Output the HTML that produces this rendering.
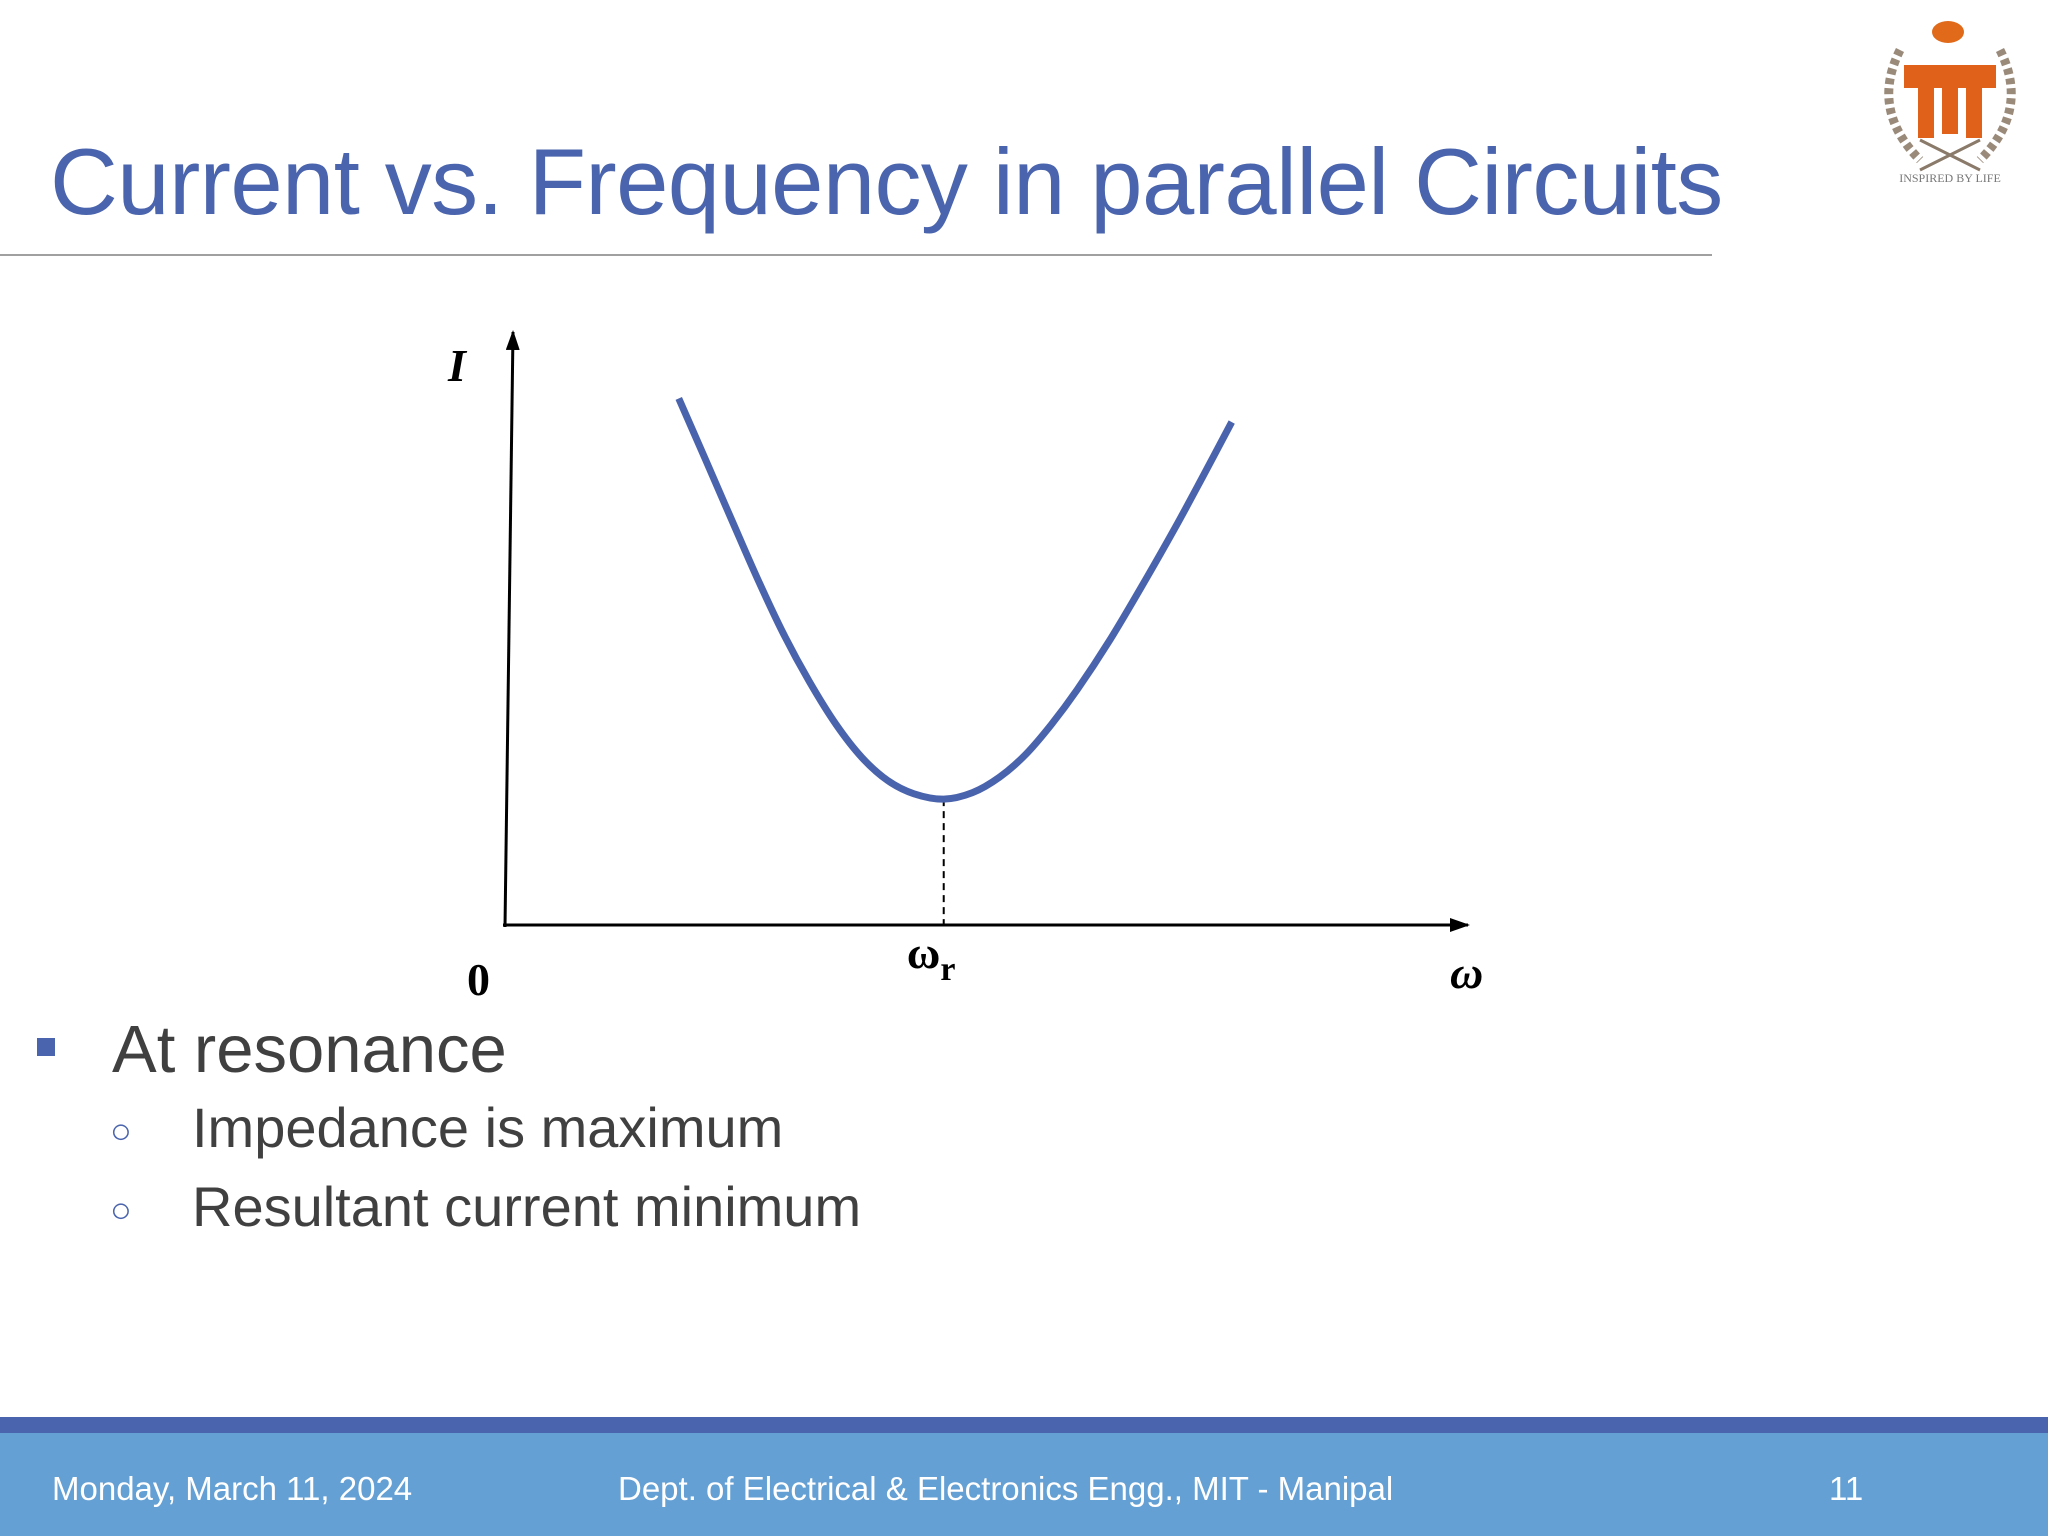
<!DOCTYPE html>
<html><head><meta charset="utf-8"><style>
html,body{margin:0;padding:0;background:#fff}
#slide{position:relative;width:2048px;height:1536px;overflow:hidden;font-family:"Liberation Sans",sans-serif;background:#fff}
.t{position:absolute;white-space:nowrap}
</style></head><body>
<div id="slide">
<div class="t" style="left:50px;top:128px;font-size:94px;color:#4a64ad;letter-spacing:-0.6px">Current vs. Frequency in parallel Circuits</div>
<div style="position:absolute;left:0;top:254px;width:1712px;height:2px;background:#a0a0a0"></div>
<svg style="position:absolute;left:1860px;top:10px" width="180" height="180" viewBox="0 0 180 180">
<g fill="none" stroke="#9a8a7a" stroke-width="9" stroke-dasharray="6 4"><path d="M40 40 Q10 100 60 150"/><path d="M140 40 Q170 100 120 150"/></g>
<path d="M60 160 L120 130 M120 160 L60 130" stroke="#8a7a6a" stroke-width="3"/>
<ellipse cx="88" cy="22" rx="16" ry="11" fill="#e06a1a"/>
<path d="M44 55 H136 V78 H122 V128 H106 V78 H98 V124 H82 V78 H74 V128 H58 V78 H44 Z" fill="#e0621a"/>
<text x="90" y="172" font-size="12" text-anchor="middle" fill="#777" font-family="Liberation Serif,serif">INSPIRED BY LIFE</text>
</svg>
<svg id="chart" style="position:absolute;left:0;top:0" width="2048" height="1536"></svg>
<div style="position:absolute;left:37px;top:1038px;width:18px;height:18px;background:#4a64ad"></div>
<div class="t" style="left:112px;top:1011px;font-size:67px;color:#404040">At resonance</div>
<div class="t" style="left:110px;top:1110px;font-size:36px;color:#4a64ad">○</div>
<div class="t" style="left:192px;top:1095px;font-size:56px;color:#404040">Impedance is maximum</div>
<div class="t" style="left:110px;top:1189px;font-size:36px;color:#4a64ad">○</div>
<div class="t" style="left:192px;top:1174px;font-size:56px;color:#404040">Resultant current minimum</div>
<div style="position:absolute;left:0;top:1417px;width:2048px;height:16px;background:#4a64ad"></div>
<div style="position:absolute;left:0;top:1433px;width:2048px;height:103px;background:#64a0d4"></div>
<div class="t" style="left:52px;top:1470px;font-size:33px;color:#fff">Monday, March 11, 2024</div>
<div class="t" style="left:618px;top:1470px;font-size:33px;color:#fff">Dept. of Electrical &amp; Electronics Engg., MIT - Manipal</div>
<div class="t" style="left:1829px;top:1470px;font-size:33px;color:#fff">11</div>
</div>
<script>
const omega = [1.81, 2.09, 2.36, 2.63, 2.90, 3.17, 3.45, 3.72, 3.99, 4.26, 4.57, 4.87, 5.15, 5.42, 5.69, 5.96, 6.30, 6.64, 6.98, 7.26, 7.57];
const current = [8.91, 7.87, 6.86, 5.86, 4.93, 4.12, 3.39, 2.83, 2.44, 2.22, 2.13, 2.24, 2.50, 2.88, 3.39, 3.98, 4.82, 5.75, 6.72, 7.56, 8.51];
const resonanceOmega = [4.57];
const NS = "http://www.w3.org/2000/svg";
const svg = document.getElementById('chart');
const sx = w => 505 + w * 96;
const sy = i => 925 - i * 59.1;
function mk(tag, attrs) {
  const e = document.createElementNS(NS, tag);
  for (const k in attrs) e.setAttribute(k, attrs[k]);
  svg.appendChild(e);
  return e;
}
let e;
e = mk('defs', {});
e.innerHTML = '<marker id="ar" markerWidth="20" markerHeight="14" refX="18" refY="7" orient="auto" markerUnits="userSpaceOnUse"><path d="M0,0 L20,7 L0,14 Z" fill="#000"/></marker>';
e = mk('line', {x1: 505, y1: 927, x2: 513, y2: 332, stroke: '#000', 'stroke-width': 3, 'marker-end': 'url(#ar)'});


e = mk('line', {x1: 503, y1: 925, x2: 1468, y2: 925, stroke: '#000', 'stroke-width': 3, 'marker-end': 'url(#ar)'});


const rx = sx(resonanceOmega[0]);
const minI = Math.min(...current);
e = mk('line', {x1: rx, y1: sy(minI), x2: rx, y2: 925, stroke: '#000', 'stroke-width': 2, 'stroke-dasharray': '7 5'});


const P = omega.map((w, i) => [sx(w), sy(current[i])]);
let d = 'M' + P[0][0] + ',' + P[0][1];
for (let i = 0; i < P.length - 1; i++) {
  const p0 = P[Math.max(i - 1, 0)], p1 = P[i], p2 = P[i + 1], p3 = P[Math.min(i + 2, P.length - 1)];
  const c1 = [p1[0] + (p2[0] - p0[0]) / 6, p1[1] + (p2[1] - p0[1]) / 6];
  const c2 = [p2[0] - (p3[0] - p1[0]) / 6, p2[1] - (p3[1] - p1[1]) / 6];
  d += ' C' + c1 + ' ' + c2 + ' ' + p2;
}
e = mk('path', {d: d, fill: 'none', stroke: '#4a63ad', 'stroke-width': 7});


function txt(x, y, s, attrs, name) {
  const t = mk('text', Object.assign({x: x, y: y, 'font-family': 'Liberation Serif, serif', 'font-weight': 'bold', 'font-size': 46, fill: '#000'}, attrs));
  t.textContent = s;
  
  
  return t;
}
txt(448, 381, 'I', {'font-style': 'italic'}, 'y-axis-title');
txt(467, 995, '0', {}, 'origin-label');
const wr = txt(rx - 37, 968, 'ω', {}, 'resonance-label');
const sub = document.createElementNS(NS, 'tspan');
sub.setAttribute('font-size', 34); sub.setAttribute('dy', 12); sub.textContent = 'r';
wr.appendChild(sub);
txt(1450, 988, 'ω', {'font-style': 'italic'}, 'x-axis-title');
</script>
</body></html>
